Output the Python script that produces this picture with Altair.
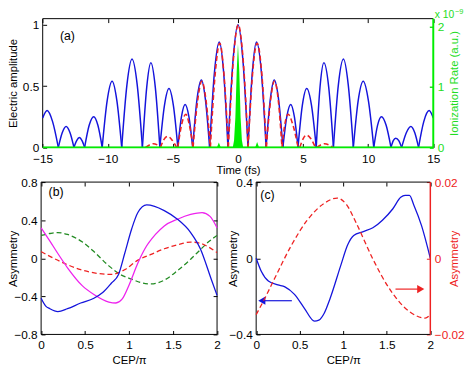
import altair as alt
import pandas as pd

W, H = 466, 358
FONT = "Liberation Sans"
BLUE = "#1414dc"
RED = "#ee2222"
MAGENTA = "#ee22ee"
DGREEN = "#228b22"
GREEN = "#00ee00"
GREEN_TXT = "#22dd22"

# ---------------- panel (a): electric amplitude (one list per hump) ----------------
amp_blue_t = [
    [-15.0, -14.66, -14.24, -13.8],
    [-13.8, -13.5, -13.2, -12.9, -12.6],
    [-12.6, -12.39, -12.18, -11.98, -11.78],
    [-11.78, -11.43, -11.08, -10.76, -10.43],
    [-10.43, -10.05, -9.67, -9.3, -8.93],
    [-8.93, -8.53, -8.14, -7.74, -7.34],
    [-7.34, -7.01, -6.69, -6.35, -6.0],
    [-6.0, -5.65, -5.3, -4.96, -4.62],
    [-4.62, -4.34, -4.06, -3.77, -3.48],
    [-3.48, -3.15, -2.81, -2.5, -2.18],
    [-2.18, -1.81, -1.44, -1.1, -0.77],
    [-0.77, -0.38, 0.0, 0.38, 0.77],
    [0.77, 1.1, 1.42, 1.8, 2.16],
    [2.16, 2.48, 2.78, 3.12, 3.45],
    [3.45, 3.75, 4.05, 4.33, 4.61],
    [4.61, 4.94, 5.28, 5.65, 6.01],
    [6.01, 6.3, 6.6, 6.97, 7.33],
    [7.33, 7.71, 8.1, 8.47, 8.86],
    [8.86, 9.23, 9.62, 10.02, 10.43],
    [10.43, 10.72, 11.02, 11.38, 11.75],
    [11.75, 11.93, 12.12, 12.35, 12.57],
    [12.57, 12.93, 13.28, 13.58, 13.87],
    [13.87, 14.27, 14.68, 15.0],
]
amp_blue_v = [
    [0.24, 0.30, 0.21, 0.0],
    [0.0, 0.12, 0.17, 0.12, 0.0],
    [0.0, 0.055, 0.08, 0.055, 0.0],
    [0.0, 0.18, 0.25, 0.18, 0.0],
    [0.0, 0.38, 0.54, 0.38, 0.0],
    [0.0, 0.51, 0.72, 0.51, 0.0],
    [0.0, 0.49, 0.69, 0.49, 0.0],
    [0.0, 0.34, 0.48, 0.34, 0.0],
    [0.0, 0.25, 0.35, 0.25, 0.0],
    [0.0, 0.39, 0.55, 0.39, 0.0],
    [0.0, 0.61, 0.86, 0.61, 0.0],
    [0.0, 0.71, 1.0, 0.71, 0.0],
    [0.0, 0.61, 0.86, 0.61, 0.0],
    [0.0, 0.39, 0.55, 0.39, 0.0],
    [0.0, 0.25, 0.35, 0.25, 0.0],
    [0.0, 0.34, 0.48, 0.34, 0.0],
    [0.0, 0.49, 0.69, 0.49, 0.0],
    [0.0, 0.51, 0.72, 0.51, 0.0],
    [0.0, 0.38, 0.54, 0.38, 0.0],
    [0.0, 0.18, 0.25, 0.18, 0.0],
    [0.0, 0.055, 0.075, 0.055, 0.0],
    [0.0, 0.12, 0.17, 0.12, 0.0],
    [0.0, 0.21, 0.30, 0.24],
]
amp_red_t = [
    [-7.1, -6.8, -6.5, -6.2, -5.95],
    [-5.95, -5.68, -5.4, -5.1, -4.72],
    [-4.62, -4.32, -4.0, -3.75, -3.45],
    [-3.45, -3.1, -2.78, -2.45, -2.12],
    [-2.12, -1.75, -1.4, -1.08, -0.74],
    [-0.74, -0.36, 0.02, 0.4, 0.78],
    [0.78, 1.12, 1.47, 1.83, 2.18],
    [2.18, 2.5, 2.8, 3.1, 3.38],
    [3.38, 3.6, 3.85, 4.2, 4.62],
    [4.75, 5.0, 5.25, 5.6, 5.95],
    [6.05, 6.35, 6.65, 7.0, 7.3],
]
amp_red_v = [
    [0.0, 0.02, 0.03, 0.02, 0.0],
    [0.0, 0.065, 0.09, 0.065, 0.0],
    [0.0, 0.19, 0.27, 0.19, 0.0],
    [0.0, 0.38, 0.54, 0.38, 0.0],
    [0.0, 0.6, 0.85, 0.6, 0.0],
    [0.0, 0.71, 1.0, 0.71, 0.0],
    [0.0, 0.6, 0.85, 0.6, 0.0],
    [0.0, 0.38, 0.54, 0.38, 0.0],
    [0.0, 0.19, 0.27, 0.19, 0.0],
    [0.0, 0.07, 0.1, 0.07, 0.0],
    [0.0, 0.02, 0.03, 0.02, 0.0],
]
ion_t = [-15.0, -1.62, -1.47, -1.32, -0.4, -0.3, -0.2, -0.1, 0.0, 0.1, 0.2, 0.3, 0.4,
         1.32, 1.47, 1.62, 15.0]
ion_v = [0.0, 0.0, 0.08, 0.0, 0.0, 0.12, 0.5, 1.25, 1.71, 1.25, 0.5, 0.12, 0.0,
         0.0, 0.09, 0.0, 0.0]

# ---------------- panel (b) ----------------
b_blue_x = [0, 0.05, 0.1, 0.19, 0.3, 0.45, 0.6, 0.7, 0.8, 0.88, 0.95, 1.03, 1.1, 1.2,
            1.29, 1.4, 1.55, 1.7, 1.81, 1.93, 2.0]
b_blue_y = [-0.42, -0.5, -0.53, -0.56, -0.53, -0.47, -0.42, -0.36, -0.26, -0.17, 0.05,
            0.31, 0.48, 0.56, 0.545, 0.5, 0.41, 0.27, 0.1, -0.21, -0.39]
b_mag_x = [0, 0.1, 0.19, 0.3, 0.47, 0.6, 0.77, 0.85, 0.92, 1.0, 1.1, 1.18, 1.3, 1.4,
           1.55, 1.7, 1.83, 1.92, 2.0]
b_mag_y = [0.32, 0.18, 0.05, -0.1, -0.29, -0.38, -0.46, -0.47, -0.43, -0.28, -0.05,
           0.1, 0.25, 0.34, 0.41, 0.46, 0.48, 0.44, 0.32]
b_grn_x = [0, 0.1, 0.19, 0.3, 0.47, 0.6, 0.77, 0.9, 1.03, 1.15, 1.25, 1.4, 1.55, 1.7,
           1.81, 1.9, 2.0]
b_grn_y = [0.24, 0.26, 0.27, 0.25, 0.17, 0.07, -0.08, -0.17, -0.22, -0.26, -0.27, -0.23,
           -0.13, -0.01, 0.09, 0.17, 0.24]
b_red_x = [0, 0.1, 0.28, 0.45, 0.65, 0.8, 0.95, 1.1, 1.25, 1.4, 1.55, 1.7, 1.8, 1.9, 2.0]
b_red_y = [0.07, 0.02, -0.06, -0.12, -0.16, -0.17, -0.12, -0.02, 0.04, 0.1, 0.14, 0.17,
           0.16, 0.12, 0.06]

# ---------------- panel (c) ----------------
c_blue_x = [0, 0.06, 0.14, 0.25, 0.33, 0.44, 0.55, 0.67, 0.72, 0.78, 0.85, 0.97, 1.05,
            1.12, 1.23, 1.34, 1.45, 1.57, 1.66, 1.71, 1.76, 1.81, 1.9, 2.0]
c_blue_y = [0, -0.07, -0.12, -0.14, -0.15, -0.19, -0.26, -0.33, -0.325, -0.29, -0.21,
            -0.04, 0.07, 0.12, 0.14, 0.16, 0.2, 0.26, 0.32, 0.33, 0.33, 0.28, 0.17, 0]
c_red_x = [0, 0.1, 0.21, 0.4, 0.59, 0.78, 0.93, 1.04, 1.15, 1.34, 1.53, 1.76, 1.94, 2.0]
c_red_y = [-0.0148, -0.0105, -0.0054, 0.0032, 0.0101, 0.0144, 0.0158, 0.014, 0.0092,
           -0.0002, -0.008, -0.014, -0.0157, -0.0148]
c_arrow_blue = {"x": [0.41], "x2": [0.065], "y": [-0.223]}
c_arrow_red = {"x": [1.6], "x2": [1.89], "y": [-0.0081]}

tick_time = [-15, -10, -5, 0, 5, 10, 15]
tick_amp = [0, 0.5, 1]
tick_ion = [0, 1, 2]
tick_cep = [0, 0.5, 1, 1.5, 2]
tick_b = [-0.8, -0.4, 0, 0.4, 0.8]
tick_c = [-0.4, 0, 0.4]
tick_c2 = [-0.02, 0, 0.02]

# ---------------- layout (pixel boxes inside the chart) ----------------
A_X = [35.3, 432.7]; A_Y = [138.7, 7.7]
B_X = [33.7, 212.7]; B_Y = [329.0, 174.0]
C_X = [252.5, 429.7]; C_Y = [329.0, 174.0]


def sc(domain, rng):
    return alt.Scale(domain=domain, range=rng, nice=False, zero=False)


sxA = sc([-15, 15], A_X)
syA = sc([0, 1.05], A_Y)
syG = sc([0, 2.13], A_Y)
sxB = sc([0, 2], B_X)
syB = sc([-0.8, 0.8], B_Y)
sxC = sc([0, 2], C_X)
syC = sc([-0.4, 0.4], C_Y)
syC2 = sc([-0.02, 0.02], C_Y)


def ax_bottom(vals, ybot, title, pad, lpad=5):
    # axis line 4px above the frame, ticks pointing down onto the frame (inward ticks)
    return alt.Axis(orient="bottom", offset=ybot - 4 - H, values=vals, format="~g",
                    title=title, titlePadding=pad, labelPadding=lpad)


def ax_top(vals, ytop):
    # mirrored inward ticks along the top edge
    return alt.Axis(orient="bottom", offset=ytop - H, values=vals, labels=False, title=None)


def ax_left(vals, xl, title, pad):
    return alt.Axis(orient="left", offset=-(xl + 4), values=vals, format="~g",
                    title=title, titlePadding=pad, labelPadding=4)


def ax_right_plain(vals, xr):
    # mirrored inward ticks along the right edge
    return alt.Axis(orient="left", offset=-xr, values=vals, labels=False, title=None)


def ax_right_labeled(vals, xr, title, color, title_x, tick_w=1):
    return alt.Axis(orient="left", offset=-xr, values=vals, format="~g", title=title,
                    titleAngle=270, titleBaseline="top", titleX=title_x,
                    labelAlign="left", labelPadding=-8, tickColor=color, tickWidth=tick_w,
                    labelColor=color, titleColor=color)


def hump_frame(ts, vs):
    rows = []
    for i, (tt, vv) in enumerate(zip(ts, vs)):
        for t, v in zip(tt, vv):
            rows.append({"x": t, "y": v, "seg": i})
    return pd.DataFrame(rows)


def mk_line(df, sx, sy, color, width, dashed=False, xaxis=None, yaxis=None, seg=False):
    kw = dict(color=color, strokeWidth=width, interpolate="monotone")
    if dashed:
        kw["strokeDash"] = [5, 3]
    enc = dict(x=alt.X("x:Q", scale=sx, axis=xaxis), y=alt.Y("y:Q", scale=sy, axis=yaxis))
    if seg:
        enc["detail"] = "seg:N"
    return alt.Chart(df).mark_line(**kw).encode(**enc)


def mk_rules(df, sx, sy, color, width, xaxis=None, yaxis=None):
    return alt.Chart(df).mark_rule(color=color, strokeWidth=width).encode(
        x=alt.X("x:Q", scale=sx, axis=xaxis), x2="x2:Q",
        y=alt.Y("y:Q", scale=sy, axis=yaxis), y2="y2:Q")


def mk_text(df, sx, sy, size, color, **kw):
    return alt.Chart(df).mark_text(fontSize=size, color=color, font=FONT, **kw).encode(
        x=alt.X("x:Q", scale=sx, axis=None), y=alt.Y("y:Q", scale=sy, axis=None),
        text="label:N")


def mk_arrow(d, sx, sy, color, shape):
    df = pd.DataFrame(d)
    shaft = alt.Chart(df).mark_rule(color=color, strokeWidth=1.2).encode(
        x=alt.X("x:Q", scale=sx, axis=None), x2="x2:Q", y=alt.Y("y:Q", scale=sy, axis=None))
    head = alt.Chart(df).mark_point(shape=shape, filled=True, size=70, color=color,
                                    opacity=1).encode(
        x=alt.X("x2:Q", scale=sx, axis=None), y=alt.Y("y:Q", scale=sy, axis=None))
    return [shaft, head]


layers = []

# ---------- panel (a) ----------
frameA = pd.DataFrame({"x": [-15, -15, -15], "x2": [15, -15, 15],
                       "y": [1.05, 0, 0], "y2": [1.05, 1.05, 0]})
layers += [
    mk_rules(frameA, sxA, syA, "black", 1, xaxis=ax_top(tick_time, A_Y[1])),
    mk_line(hump_frame(amp_blue_t, amp_blue_v), sxA, syA, BLUE, 1.5,
            xaxis=ax_bottom(tick_time, A_Y[0], "Time (fs)", 0, 6.5),
            yaxis=ax_left(tick_amp, A_X[0], "Electric amplitude", 4), seg=True),
    mk_line(hump_frame(amp_red_t, amp_red_v), sxA, syA, RED, 1.6, dashed=True, seg=True),
    mk_text(pd.DataFrame({"x": [-13.1], "y": [0.91], "label": ["(a)"]}), sxA, syA, 12.5, "black"),
]

greenEdges = pd.DataFrame({"x": [-15, 15], "x2": [15, 15], "y": [0, 0], "y2": [0, 2.13]})
layers += [
    alt.Chart(pd.DataFrame({"x": ion_t, "y": ion_v})).mark_area(
        color=GREEN, opacity=1, interpolate="linear").encode(
        x=alt.X("x:Q", scale=sxA, axis=None),
        y=alt.Y("y:Q", scale=syG, axis=ax_right_labeled(
            tick_ion, A_X[1], "Ionization Rate (a.u.)", GREEN_TXT, 16, 1.5))),
    mk_rules(greenEdges, sxA, syG, GREEN, 2),
    mk_text(pd.DataFrame({"x": [15], "y": [2.13], "label": ["x 10"]}), sxA, syG, 10.5,
            GREEN_TXT, align="left", baseline="alphabetic", dx=1.5, dy=-1),
    mk_text(pd.DataFrame({"x": [15], "y": [2.13], "label": ["\u22129"]}), sxA, syG, 7.5,
            GREEN_TXT, align="left", baseline="alphabetic", dx=22, dy=-5),
]

# ---------- panel (b) ----------
frameB = pd.DataFrame({"x": [0, 0, 0, 2], "x2": [2, 0, 2, 2],
                       "y": [0.8, -0.8, -0.8, -0.8], "y2": [0.8, 0.8, -0.8, 0.8]})
layers += [
    mk_rules(frameB, sxB, syB, "black", 1, xaxis=ax_top(tick_cep, B_Y[1]),
             yaxis=ax_right_plain(tick_b, B_X[1])),
    mk_line(pd.DataFrame({"x": b_grn_x, "y": b_grn_y}), sxB, syB, DGREEN, 1.3, dashed=True),
    mk_line(pd.DataFrame({"x": b_red_x, "y": b_red_y}), sxB, syB, RED, 1.3, dashed=True),
    mk_line(pd.DataFrame({"x": b_mag_x, "y": b_mag_y}), sxB, syB, MAGENTA, 1.3),
    mk_line(pd.DataFrame({"x": b_blue_x, "y": b_blue_y}), sxB, syB, BLUE, 1.3,
            xaxis=ax_bottom(tick_cep, B_Y[0], "CEP/\u03c0", 5),
            yaxis=ax_left(tick_b, B_X[0], "Asymmetry", -5)),
    mk_text(pd.DataFrame({"x": [0.17], "y": [0.69], "label": ["(b)"]}), sxB, syB, 12.5, "black"),
]

# ---------- panel (c) ----------
frameC = pd.DataFrame({"x": [0, 0, 0], "x2": [2, 0, 2],
                       "y": [0.4, -0.4, -0.4], "y2": [0.4, 0.4, -0.4]})
layers += [
    mk_rules(frameC, sxC, syC, "black", 1, xaxis=ax_top(tick_cep, C_Y[1])),
    mk_line(pd.DataFrame({"x": c_blue_x, "y": c_blue_y}), sxC, syC, BLUE, 1.3,
            xaxis=ax_bottom(tick_cep, C_Y[0], "CEP/\u03c0", 5),
            yaxis=ax_left(tick_c, C_X[0], "Asymmetry", -10)),
    *mk_arrow(c_arrow_blue, sxC, syC, BLUE, "triangle-left"),
    mk_text(pd.DataFrame({"x": [0.13], "y": [0.333], "label": ["(c)"]}), sxC, syC, 12.5, "black"),
    mk_rules(pd.DataFrame({"x": [2], "x2": [2], "y": [-0.02], "y2": [0.02]}), sxC, syC2, RED, 1.5),
    mk_line(pd.DataFrame({"x": c_red_x, "y": c_red_y}), sxC, syC2, RED, 1.3, dashed=True,
            yaxis=ax_right_labeled(tick_c2, C_X[1], "Asymmetry", RED, 19)),
    *mk_arrow(c_arrow_red, sxC, syC2, RED, "triangle-right"),
]

chart = alt.layer(*layers).resolve_scale(
    x="independent", y="independent").resolve_axis(
    x="independent", y="independent").properties(
    width=W, height=H, padding=0, autosize=alt.AutoSizeParams(type="none")
).configure_axis(
    labelFont=FONT, titleFont=FONT, labelFontSize=12, titleFontSize=11.5,
    titleFontWeight="normal", grid=False, domain=False, tickSize=4, tickColor="black",
    labelColor="black", titleColor="black", labelFlush=False, labelOverlap=False
).configure_view(strokeWidth=0)

chart.save("out.html", embed_options={"renderer": "svg", "actions": False})
